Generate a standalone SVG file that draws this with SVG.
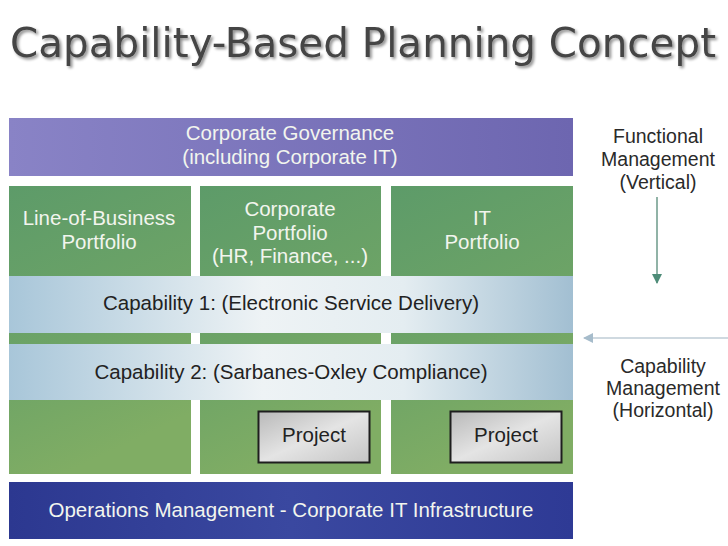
<svg xmlns="http://www.w3.org/2000/svg" width="728" height="546" viewBox="0 0 728 546">
<defs>
  <linearGradient id="gPurple" x1="0" y1="0" x2="1" y2="0">
    <stop offset="0" stop-color="#8983c6"/>
    <stop offset="1" stop-color="#6d66b0"/>
  </linearGradient>
  <linearGradient id="gGreen" x1="0" y1="0" x2="0.3" y2="1">
    <stop offset="0" stop-color="#5d9b69"/>
    <stop offset="0.6" stop-color="#6ea466"/>
    <stop offset="1" stop-color="#80ad64"/>
  </linearGradient>
  <linearGradient id="gCap" x1="0" y1="0" x2="1" y2="0">
    <stop offset="0" stop-color="#a8c6d9"/>
    <stop offset="0.45" stop-color="#eef3f5"/>
    <stop offset="0.7" stop-color="#e4edf1"/>
    <stop offset="1" stop-color="#a2bfd2"/>
  </linearGradient>
  <linearGradient id="gOps" x1="0" y1="0" x2="1" y2="0">
    <stop offset="0" stop-color="#2c3890"/>
    <stop offset="0.5" stop-color="#3a48a0"/>
    <stop offset="1" stop-color="#2e3a95"/>
  </linearGradient>
  <linearGradient id="gProj" x1="0" y1="0" x2="1" y2="1">
    <stop offset="0" stop-color="#b9b9b9"/>
    <stop offset="0.5" stop-color="#e4e4e4"/>
    <stop offset="1" stop-color="#c4c4c4"/>
  </linearGradient>
  <marker id="arrDown" viewBox="0 0 10 10" refX="9" refY="5" markerWidth="10" markerHeight="10" markerUnits="userSpaceOnUse" orient="auto">
    <path d="M0,0 L10,5 L0,10 z" fill="#4e8c78"/>
  </marker>
  <marker id="arrLeft" viewBox="0 0 10 10" refX="9" refY="5" markerWidth="11" markerHeight="10" markerUnits="userSpaceOnUse" orient="auto">
    <path d="M0,0 L10,5 L0,10 z" fill="#a6bccb"/>
  </marker>
  <filter id="shadow" x="-5%" y="-30%" width="110%" height="160%">
    <feGaussianBlur in="SourceAlpha" stdDeviation="1.5"/>
    <feOffset dx="1.5" dy="2" result="b"/>
    <feComponentTransfer><feFuncA type="linear" slope="0.45"/></feComponentTransfer>
    <feMerge><feMergeNode/><feMergeNode in="SourceGraphic"/></feMerge>
  </filter>
</defs>
<style>
  .t { font-family: "Liberation Sans", Arial, sans-serif; font-size: 20.5px; text-anchor: middle; }
  .lt { fill: #f2f5ee; }
  .dk { fill: #222222; }
  .side { font-family: "Liberation Sans", Arial, sans-serif; font-size: 19.5px; text-anchor: middle; fill: #2a2a2a; }
  .title { font-family: "DejaVu Sans", Verdana, sans-serif; font-stretch: condensed; font-size: 41px; fill: #444444; }
</style>
<rect width="728" height="546" fill="#ffffff"/>
<text class="title" x="10" y="57" textLength="706" lengthAdjust="spacingAndGlyphs" filter="url(#shadow)">Capability-Based Planning Concept</text>

<g id="governance">
  <rect x="9" y="118" width="564" height="58" fill="url(#gPurple)"/>
  <text class="t lt" x="290" y="140">Corporate Governance</text>
  <text class="t lt" x="290" y="164">(including Corporate IT)</text>
</g>
<g id="lob-portfolio">
  <rect x="9" y="186" width="182" height="288" fill="url(#gGreen)"/>
  <text class="t lt" x="99" y="225">Line-of-Business</text>
  <text class="t lt" x="99" y="249">Portfolio</text>
</g>
<g id="corporate-portfolio">
  <rect x="200" y="186" width="181" height="288" fill="url(#gGreen)"/>
  <text class="t lt" x="290" y="216">Corporate</text>
  <text class="t lt" x="290" y="240">Portfolio</text>
  <text class="t lt" x="290" y="263">(HR, Finance, ...)</text>
</g>
<g id="it-portfolio">
  <rect x="391" y="186" width="182" height="288" fill="url(#gGreen)"/>
  <text class="t lt" x="482" y="225">IT</text>
  <text class="t lt" x="482" y="249">Portfolio</text>
</g>
<g id="capability1">
  <rect x="9" y="276" width="564" height="57" fill="url(#gCap)"/>
  <text class="t dk" x="291" y="310">Capability 1: (Electronic Service Delivery)</text>
</g>
<g id="capability2">
  <rect x="9" y="344" width="564" height="56" fill="url(#gCap)"/>
  <text class="t dk" x="291" y="379">Capability 2: (Sarbanes-Oxley Compliance)</text>
</g>
<g id="project1">
  <rect x="258.5" y="411.5" width="111" height="51" fill="url(#gProj)" stroke="#1e1e1e" stroke-width="2"/>
  <text class="t dk" x="314" y="442">Project</text>
</g>
<g id="project2">
  <rect x="450.5" y="411.5" width="111" height="51" fill="url(#gProj)" stroke="#1e1e1e" stroke-width="2"/>
  <text class="t dk" x="506" y="442">Project</text>
</g>
<g id="operations">
  <rect x="9" y="482" width="564" height="57" fill="url(#gOps)"/>
  <text class="t lt" x="291" y="517">Operations Management - Corporate IT Infrastructure</text>
</g>
<g id="functional-management">
  <text class="side" x="658" y="143">Functional</text>
  <text class="side" x="658" y="166">Management</text>
  <text class="side" x="658" y="189">(Vertical)</text>
</g>
<g id="capability-management">
  <text class="side" x="663" y="373">Capability</text>
  <text class="side" x="663" y="395">Management</text>
  <text class="side" x="663" y="417">(Horizontal)</text>
</g>
<g id="connectors">
  <line x1="657" y1="197" x2="657" y2="283" stroke="#6c9a8a" stroke-width="1.5" marker-end="url(#arrDown)"/>
  <line x1="728" y1="338" x2="584" y2="338" stroke="#9fb4c2" stroke-width="1.2" marker-end="url(#arrLeft)"/>
</g>
</svg>
